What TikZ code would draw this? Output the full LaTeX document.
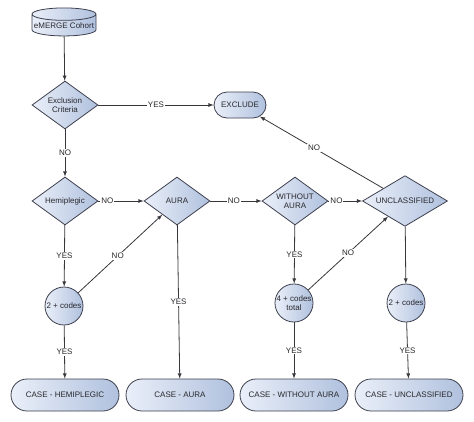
\documentclass[tikz,border=0pt]{standalone}
\usepackage{fontspec}
\setmainfont{Liberation Sans}
\usetikzlibrary{arrows,shapes}
\definecolor{boxline}{RGB}{62,64,78}
\definecolor{boxlight}{RGB}{234,239,249}
\definecolor{boxdark}{RGB}{176,193,222}
\definecolor{txt}{RGB}{40,40,44}
\definecolor{wire}{RGB}{55,55,60}
\tikzset{
  base/.style={draw=boxline, line width=0.8pt, left color=boxlight, right color=boxdark,
    text=txt, font=\fontsize{8}{9.5}\selectfont, inner sep=1pt, align=center},
  decision/.style={base, diamond, aspect=1.4, minimum width=66pt, minimum height=48pt},
  terminal/.style={base, rounded rectangle, minimum width=110pt, minimum height=32pt},
  check/.style={base, circle, inner sep=0pt, minimum size=38pt},
  store/.style={base, cylinder, shape border rotate=90, aspect=0.2, minimum width=64pt, minimum height=28pt},
  flow/.style={->, >=latex, draw=wire, line width=0.8pt},
  lbl/.style={fill=white, inner sep=1pt, text=txt, font=\fontsize{8}{9.5}\selectfont}
}
\begin{document}
\begin{tikzpicture}[x=1pt,y=-1pt]
\useasboundingbox (0,0) rectangle (474,421);
\node[store] (cohort) at (64,26) {eMERGE Cohort};
\node[decision] (excl) at (65,105) {Exclusion\\Criteria};
\node[terminal, minimum width=54pt, minimum height=26pt] (exclude) at (240,105) {EXCLUDE};
\node[decision] (hemi) at (65,201) {Hemiplegic};
\node[decision] (aura) at (177,201) {AURA};
\node[decision] (woaura) at (295,201) {WITHOUT\\AURA};
\node[decision, minimum width=85pt, minimum height=49pt] (uncl) at (405,201) {UNCLASSIFIED};
\node[check] (hemicodes) at (64,306) {2 + codes};
\node[check] (wocodes) at (294,303) {4 + codes\\total};
\node[check] (unclcodes) at (406,303) {2 + codes};
\node[terminal] (casehemi) at (65,395) {CASE - HEMIPLEGIC};
\node[terminal] (caseaura) at (180,395) {CASE - AURA};
\node[terminal] (casewo) at (294,395) {CASE - WITHOUT AURA};
\node[terminal] (caseuncl) at (409,395) {CASE - UNCLASSIFIED};

\draw[flow] (cohort) -- (excl);
\draw[flow] (excl) -- node[lbl] {YES} (exclude);
\draw[flow] (excl) -- node[lbl] {NO} (hemi);
\draw[flow] (hemi) -- node[lbl, pos=0.2] {NO} (aura);
\draw[flow] (aura) -- node[lbl, pos=0.46] {NO} (woaura);
\draw[flow] (woaura) -- node[lbl, pos=0.24] {NO} (uncl);
\draw[flow] (uncl) -- node[lbl, pos=0.56] {NO} (exclude);
\draw[flow] (hemi) -- node[lbl] {YES} (hemicodes);
\draw[flow] (hemicodes) -- node[lbl, pos=0.47] {NO} (aura);
\draw[flow] (hemicodes) -- node[lbl] {YES} (casehemi);
\draw[flow] (aura) -- node[lbl] {YES} (caseaura);
\draw[flow] (woaura) -- node[lbl] {YES} (wocodes);
\draw[flow] (wocodes) -- node[lbl] {NO} (uncl);
\draw[flow] (wocodes) -- node[lbl] {YES} (casewo);
\draw[flow] (uncl) -- (unclcodes);
\draw[flow] (unclcodes) -- node[lbl] {YES} (caseuncl);
\end{tikzpicture}
\end{document}
